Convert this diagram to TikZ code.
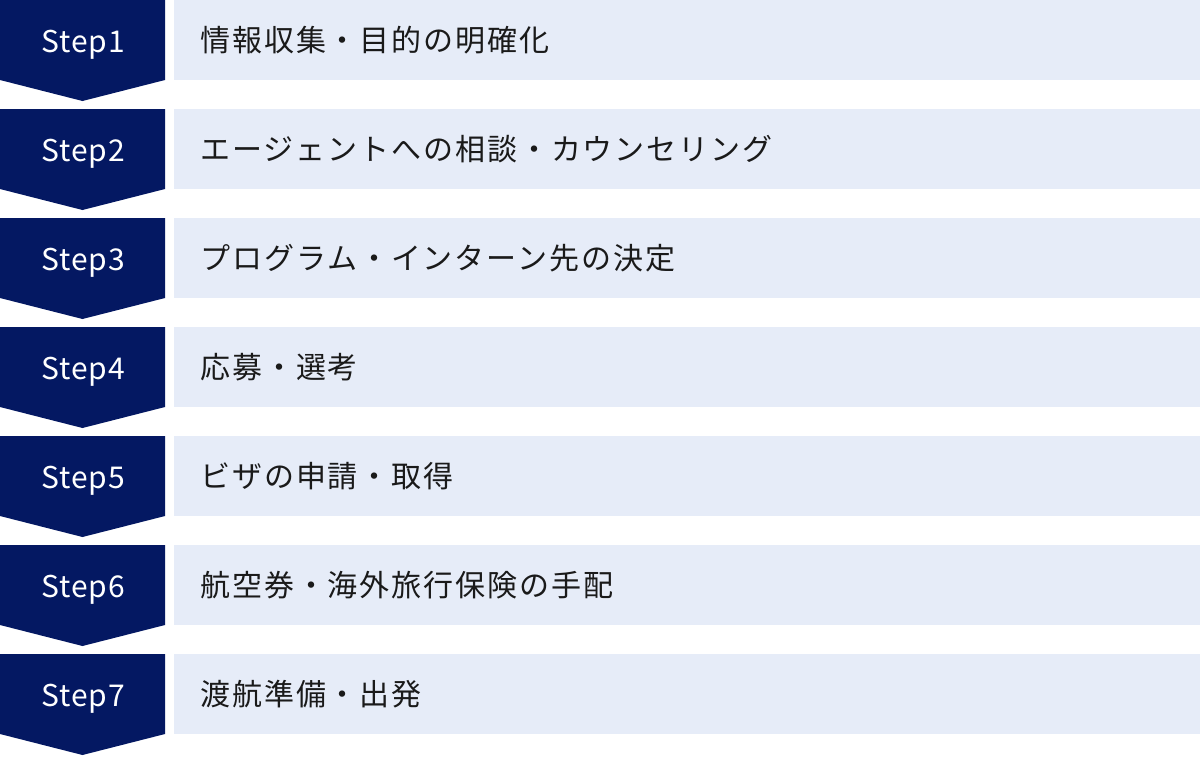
\documentclass[tikz,border=0pt]{standalone}
\usepackage{fontspec}
\setmainfont{Noto Sans CJK JP}
\newfontfamily\jpfont[LetterSpace=6.5]{Noto Sans CJK JP}
\newfontfamily\stepfont[LetterSpace=3.5]{Noto Sans CJK JP}
\definecolor{navy}{HTML}{041862}
\definecolor{pale}{HTML}{E6ECF8}
\definecolor{ink}{HTML}{1A1A1A}
\begin{document}
\begin{tikzpicture}[x=1pt,y=-1pt,
  stepshape/.style={fill=navy,draw=none},
  labelbox/.style={fill=pale,draw=none},
  steptext/.style={text=white,font=\stepfont\fontsize{30}{34}\selectfont,inner sep=0pt,anchor=base},
  desctext/.style={text=ink,font=\jpfont\fontsize{30}{34}\selectfont,inner sep=0pt,anchor=base west}]
\useasboundingbox (0,0) rectangle (1200,756);
\foreach \i/\t in {1/情報収集・目的の明確化,2/エージェントへの相談・カウンセリング,3/プログラム・インターン先の決定,4/応募・選考,5/ビザの申請・取得,6/航空券・海外旅行保険の手配,7/渡航準備・出発}{
  \pgfmathsetmacro{\y}{(\i-1)*109}
  \fill[stepshape] (0,\y) -- (165,\y) -- (165,\y+80) -- (82.5,\y+101) -- (0,\y+80) -- cycle;
  \fill[labelbox] (174,\y) rectangle (1200,\y+80);
  \node[steptext] (s\i) at (83,\y+52.5) {Step\i};
  \node[desctext] (d\i) at (200,\y+51.5) {\t};
}
\end{tikzpicture}
\end{document}
